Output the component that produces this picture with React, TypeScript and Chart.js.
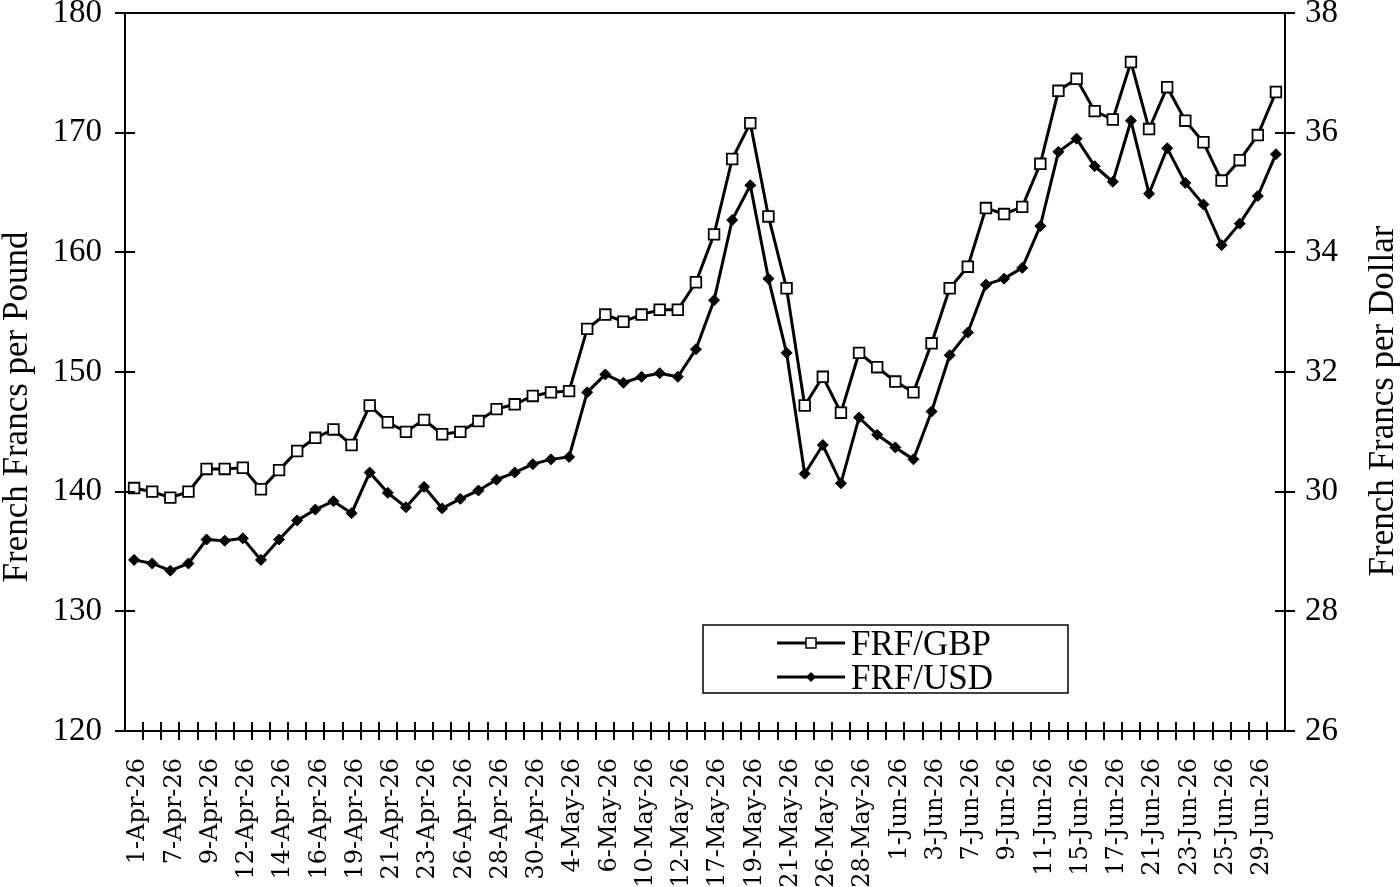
import React, { useEffect, useRef } from "react";
import { Chart, registerables } from "chart.js";

Chart.register(...registerables);

// ---- Data ----
const dates: string[] = [
  "1-Apr-26", "6-Apr-26", "7-Apr-26", "8-Apr-26", "9-Apr-26", "10-Apr-26",
  "12-Apr-26", "13-Apr-26", "14-Apr-26", "15-Apr-26", "16-Apr-26", "17-Apr-26",
  "19-Apr-26", "20-Apr-26", "21-Apr-26", "22-Apr-26", "23-Apr-26", "24-Apr-26",
  "26-Apr-26", "27-Apr-26", "28-Apr-26", "29-Apr-26", "30-Apr-26", "1-May-26",
  "4-May-26", "5-May-26", "6-May-26", "7-May-26", "10-May-26", "11-May-26",
  "12-May-26", "14-May-26", "17-May-26", "18-May-26", "19-May-26", "20-May-26",
  "21-May-26", "25-May-26", "26-May-26", "27-May-26", "28-May-26", "29-May-26",
  "1-Jun-26", "2-Jun-26", "3-Jun-26", "4-Jun-26", "7-Jun-26", "8-Jun-26",
  "9-Jun-26", "10-Jun-26", "11-Jun-26", "12-Jun-26", "15-Jun-26", "16-Jun-26",
  "17-Jun-26", "18-Jun-26", "21-Jun-26", "22-Jun-26", "23-Jun-26", "24-Jun-26",
  "25-Jun-26", "26-Jun-26", "29-Jun-26", "30-Jun-26",
];

// French francs per pound (left axis)
const frfGbp: number[] = [
  140.3, 140.0, 139.5, 140.0, 141.9, 141.9, 142.0, 140.2, 141.8, 143.4,
  144.5, 145.2, 143.9, 147.2, 145.8, 145.0, 146.0, 144.8, 145.0, 145.9,
  146.9, 147.3, 148.0, 148.3, 148.4, 153.6, 154.8, 154.2, 154.8, 155.2,
  155.2, 157.5, 161.5, 167.8, 170.8, 163.0, 157.0, 147.2, 149.6, 146.6,
  151.6, 150.4, 149.2, 148.3, 152.4, 157.0, 158.8, 163.7, 163.2, 163.8,
  167.4, 173.5, 174.5, 171.8, 171.1, 175.9, 170.3, 173.8, 171.0, 169.2,
  166.0, 167.7, 169.8, 173.4,
];

// French francs per dollar (right axis)
const frfUsd: number[] = [
  28.86, 28.80, 28.68, 28.80, 29.20, 29.18, 29.22, 28.86, 29.20, 29.52,
  29.70, 29.84, 29.64, 30.32, 29.98, 29.74, 30.08, 29.72, 29.88, 30.02,
  30.20, 30.32, 30.46, 30.54, 30.58, 31.66, 31.96, 31.82, 31.92, 31.98,
  31.92, 32.38, 33.20, 34.54, 35.12, 33.56, 32.32, 30.30, 30.78, 30.14,
  31.24, 30.95, 30.74, 30.54, 31.34, 32.28, 32.66, 33.46, 33.56, 33.74,
  34.44, 35.68, 35.90, 35.44, 35.18, 36.20, 34.98, 35.74, 35.16, 34.80,
  34.12, 34.48, 34.94, 35.64,
];

const leftMin = 120;
const leftMax = 180;
const leftStep = 10;
const rightMin = 26;
const rightMax = 38;
const rightStep = 2;

const seriesNames: string[] = ["FRF/GBP", "FRF/USD"];
const leftTitle = "French Francs per Pound";
const rightTitle = "French Francs per Dollar";

const SERIF = '"Liberation Serif", "Times New Roman", serif';

const framePlugin = {
  id: "frameAndLegend",
  afterDraw(chart: any) {
    const { ctx, chartArea: a, scales } = chart;
    const xs = scales.x;
    const yl = scales.y;
    const yr = scales.y1;
    ctx.save();
    ctx.strokeStyle = "#000";
    ctx.fillStyle = "#000";
    ctx.lineWidth = 2;
    ctx.beginPath();
    // top border
    ctx.moveTo(a.left - 10, a.top);
    ctx.lineTo(a.right + 10, a.top);
    // left ticks
    yl.ticks.forEach((t: any) => {
      const py = Math.round(yl.getPixelForValue(t.value));
      ctx.moveTo(a.left - 10, py);
      ctx.lineTo(a.left + 10, py);
    });
    // right ticks
    yr.ticks.forEach((t: any) => {
      const py = Math.round(yr.getPixelForValue(t.value));
      ctx.moveTo(a.right - 10, py);
      ctx.lineTo(a.right + 10, py);
    });
    // x ticks at category boundaries
    for (let i = 1; i < dates.length; i++) {
      const px = Math.round(xs.getPixelForValue(i - 0.5));
      ctx.moveTo(px, a.bottom - 9);
      ctx.lineTo(px, a.bottom + 9);
    }
    ctx.stroke();

    // axis titles
    ctx.font = `35px ${SERIF}`;
    ctx.textAlign = "center";
    ctx.textBaseline = "alphabetic";
    ctx.save();
    ctx.translate(27, 407);
    ctx.rotate(-Math.PI / 2);
    ctx.fillText(leftTitle, 0, 0);
    ctx.restore();
    ctx.save();
    ctx.translate(1393, 401);
    ctx.rotate(-Math.PI / 2);
    ctx.fillText(rightTitle, 0, 0);
    ctx.restore();

    // legend
    const bx = 703, by = 625, bw = 365, bh = 68;
    ctx.lineWidth = 1.5;
    ctx.strokeRect(bx, by, bw, bh);
    const rows = [643, 677];
    rows.forEach((ry, i) => {
      ctx.lineWidth = 3;
      ctx.beginPath();
      ctx.moveTo(777, ry);
      ctx.lineTo(845, ry);
      ctx.stroke();
      const mx = 811;
      if (i === 0) {
        ctx.fillStyle = "#fff";
        ctx.fillRect(mx - 5, ry - 5, 10, 10);
        ctx.lineWidth = 1.5;
        ctx.strokeRect(mx - 5, ry - 5, 10, 10);
      } else {
        ctx.fillStyle = "#000";
        ctx.beginPath();
        ctx.moveTo(mx, ry - 5);
        ctx.lineTo(mx + 5, ry);
        ctx.lineTo(mx, ry + 5);
        ctx.lineTo(mx - 5, ry);
        ctx.closePath();
        ctx.fill();
      }
      ctx.fillStyle = "#000";
      ctx.font = `35px ${SERIF}`;
      ctx.textAlign = "left";
      ctx.textBaseline = "alphabetic";
      ctx.fillText(seriesNames[i], 851, ry + 12);
    });
    ctx.restore();
  },
};

export default function App() {
  const ref = useRef<HTMLCanvasElement | null>(null);

  useEffect(() => {
    if (!ref.current) return;
    const chart = new Chart(ref.current, {
      type: "line",
      data: {
        labels: dates,
        datasets: [
          {
            label: seriesNames[0],
            data: frfGbp,
            yAxisID: "y",
            borderColor: "#000",
            borderWidth: 3,
            tension: 0,
            pointStyle: "rect",
            pointRadius: 7.5,
            pointBackgroundColor: "#fff",
            pointBorderColor: "#000",
            pointBorderWidth: 1.8,
          },
          {
            label: seriesNames[1],
            data: frfUsd,
            yAxisID: "y1",
            borderColor: "#000",
            borderWidth: 3,
            tension: 0,
            pointStyle: "rectRot",
            pointRadius: 5.5,
            pointBackgroundColor: "#000",
            pointBorderColor: "#000",
            pointBorderWidth: 1,
          },
        ],
      },
      options: {
        animation: false,
        responsive: false,
        devicePixelRatio: 1,
        layout: { padding: { top: 13, left: 0, right: 0, bottom: 0 } },
        plugins: {
          legend: { display: false },
          tooltip: { enabled: false },
          title: { display: false },
        },
        scales: {
          x: {
            type: "category",
            offset: true,
            grid: { display: false, offset: true, drawTicks: false },
            border: { display: true, color: "#000", width: 2 },
            ticks: {
              autoSkip: false,
              maxRotation: 90,
              minRotation: 90,
              padding: 27,
              labelOffset: 4,
              color: "#000",
              font: { family: '"DejaVu Serif", serif', size: 24 },
              callback: (_v: any, i: number) => (i % 2 === 0 ? dates[i] : ""),
            },
            afterFit: (s: any) => {
              s.height = 156;
              s.paddingLeft = 0;
              s.paddingRight = 0;
              s.paddingTop = 0;
              s.paddingBottom = 0;
            },
          },
          y: {
            position: "left",
            min: leftMin,
            max: leftMax,
            grid: { display: false, drawTicks: false },
            border: { display: true, color: "#000", width: 2 },
            ticks: {
              stepSize: leftStep,
              padding: 23,
              color: "#000",
              font: { family: SERIF, size: 33 },
            },
            afterFit: (s: any) => {
              s.width = 125;
              s.paddingTop = 0;
              s.paddingBottom = 0;
            },
          },
          y1: {
            position: "right",
            min: rightMin,
            max: rightMax,
            grid: { display: false, drawTicks: false },
            border: { display: true, color: "#000", width: 2 },
            ticks: {
              stepSize: rightStep,
              padding: 20,
              color: "#000",
              font: { family: SERIF, size: 33 },
            },
            afterFit: (s: any) => {
              s.width = 115;
              s.paddingTop = 0;
              s.paddingBottom = 0;
            },
          },
        },
      },
      plugins: [framePlugin],
    });
    return () => chart.destroy();
  }, []);

  return (
    <div
      style={{
        position: "fixed",
        left: 0,
        top: 0,
        width: 1400,
        height: 887,
        background: "#fff",
      }}
    >
      <canvas ref={ref} width={1400} height={887} />
    </div>
  );
}
